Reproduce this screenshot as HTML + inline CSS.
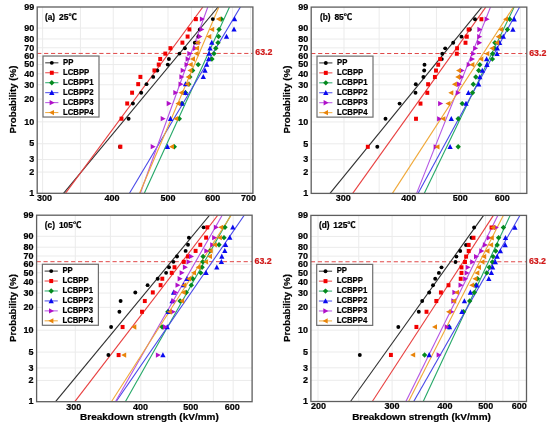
<!DOCTYPE html><html><head><meta charset="utf-8"><title>Weibull plots</title><style>html,body{margin:0;padding:0;background:#fff;width:550px;height:425px;overflow:hidden}svg{display:block}text{font-family:"Liberation Sans", Arial, "DejaVu Sans", sans-serif;font-weight:bold;stroke:#000;stroke-width:0.22px}</style></head><body>
<svg width="550" height="425" viewBox="0 0 550 425">
<rect width="550" height="425" fill="#fff"/>
<g id="panel-a">
<clipPath id="clipa"><rect x="37.2" y="7" width="215.7" height="186.3"/></clipPath>
<path d="M37.2 172.07H252.9M37.2 159.59H252.9M37.2 143.74H252.9M37.2 121.86H252.9M37.2 99.04H252.9M37.2 84.78H252.9M37.2 73.86H252.9M37.2 64.58H252.9M37.2 56.09H252.9M37.2 47.79H252.9M37.2 38.96H252.9M37.2 28.07H252.9M42.6 7V193.3M80.44 7V193.3M113.23 7V193.3M142.14 7V193.3M168.01 7V193.3M191.41 7V193.3M212.77 7V193.3M232.42 7V193.3M250.61 7V193.3" stroke="#ebebeb" stroke-width="1" fill="none"/>
<path d="M37.2 53.43H252.9" stroke="#e04848" stroke-width="1" stroke-dasharray="4.2 2.7" fill="none"/>
<text x="255.3" y="55.43" font-size="8.8" fill="#d01818" style="stroke:#d01818">63.2</text>
<g clip-path="url(#clipa)">
<path d="M63.5 193.3L218.1 7" stroke="#303030" stroke-width="1.1" fill="none"/>
<path d="M65.4 193.3L202.9 7" stroke="#e84040" stroke-width="1.1" fill="none"/>
<path d="M144.3 193.3L229.5 7" stroke="#25a868" stroke-width="1.1" fill="none"/>
<path d="M129.5 193.3L240.4 7" stroke="#4848e8" stroke-width="1.1" fill="none"/>
<path d="M140.3 193.3L207.8 7" stroke="#b454e4" stroke-width="1.1" fill="none"/>
<path d="M139.6 193.3L218.9 7" stroke="#f0a838" stroke-width="1.1" fill="none"/>
<circle cx="120" cy="146.71" r="1.95" fill="#000000"/>
<circle cx="128.6" cy="118.68" r="1.95" fill="#000000"/>
<circle cx="132.9" cy="103.49" r="1.95" fill="#000000"/>
<circle cx="141.2" cy="92.71" r="1.95" fill="#000000"/>
<circle cx="146.5" cy="84.15" r="1.95" fill="#000000"/>
<circle cx="153.2" cy="76.9" r="1.95" fill="#000000"/>
<circle cx="157.3" cy="70.47" r="1.95" fill="#000000"/>
<circle cx="167.8" cy="64.58" r="1.95" fill="#000000"/>
<circle cx="168.9" cy="59.02" r="1.95" fill="#000000"/>
<circle cx="179.5" cy="53.62" r="1.95" fill="#000000"/>
<circle cx="184.9" cy="48.23" r="1.95" fill="#000000"/>
<circle cx="194.8" cy="42.64" r="1.95" fill="#000000"/>
<circle cx="198.5" cy="36.57" r="1.95" fill="#000000"/>
<circle cx="199.8" cy="29.41" r="1.95" fill="#000000"/>
<circle cx="212.8" cy="19.12" r="1.95" fill="#000000"/>
<rect x="118.45" y="144.66" width="3.9" height="4.1" fill="#f20000"/>
<rect x="119.55" y="116.63" width="3.9" height="4.1" fill="#f20000"/>
<rect x="125.25" y="101.44" width="3.9" height="4.1" fill="#f20000"/>
<rect x="130.15" y="90.66" width="3.9" height="4.1" fill="#f20000"/>
<rect x="136.25" y="82.1" width="3.9" height="4.1" fill="#f20000"/>
<rect x="138.45" y="74.85" width="3.9" height="4.1" fill="#f20000"/>
<rect x="152.45" y="68.42" width="3.9" height="4.1" fill="#f20000"/>
<rect x="156.75" y="62.53" width="3.9" height="4.1" fill="#f20000"/>
<rect x="158.25" y="56.97" width="3.9" height="4.1" fill="#f20000"/>
<rect x="163.35" y="51.57" width="3.9" height="4.1" fill="#f20000"/>
<rect x="168.45" y="46.18" width="3.9" height="4.1" fill="#f20000"/>
<rect x="180.45" y="40.59" width="3.9" height="4.1" fill="#f20000"/>
<rect x="185.65" y="34.52" width="3.9" height="4.1" fill="#f20000"/>
<rect x="187.45" y="27.36" width="3.9" height="4.1" fill="#f20000"/>
<rect x="193.95" y="17.07" width="3.9" height="4.1" fill="#f20000"/>
<path d="M174.3 144.01L177 146.71L174.3 149.41L171.6 146.71Z" fill="#058a1e"/>
<path d="M179.3 115.98L182 118.68L179.3 121.38L176.6 118.68Z" fill="#058a1e"/>
<path d="M182 100.79L184.7 103.49L182 106.19L179.3 103.49Z" fill="#058a1e"/>
<path d="M185.5 90.01L188.2 92.71L185.5 95.41L182.8 92.71Z" fill="#058a1e"/>
<path d="M188.8 81.45L191.5 84.15L188.8 86.85L186.1 84.15Z" fill="#058a1e"/>
<path d="M189.8 74.2L192.5 76.9L189.8 79.6L187.1 76.9Z" fill="#058a1e"/>
<path d="M192.6 67.77L195.3 70.47L192.6 73.17L189.9 70.47Z" fill="#058a1e"/>
<path d="M198.2 61.88L200.9 64.58L198.2 67.28L195.5 64.58Z" fill="#058a1e"/>
<path d="M211.9 56.32L214.6 59.02L211.9 61.72L209.2 59.02Z" fill="#058a1e"/>
<path d="M214 50.92L216.7 53.62L214 56.32L211.3 53.62Z" fill="#058a1e"/>
<path d="M215.8 45.53L218.5 48.23L215.8 50.93L213.1 48.23Z" fill="#058a1e"/>
<path d="M218 39.94L220.7 42.64L218 45.34L215.3 42.64Z" fill="#058a1e"/>
<path d="M218.6 33.87L221.3 36.57L218.6 39.27L215.9 36.57Z" fill="#058a1e"/>
<path d="M219.1 26.71L221.8 29.41L219.1 32.11L216.4 29.41Z" fill="#058a1e"/>
<path d="M221.4 16.42L224.1 19.12L221.4 21.82L218.7 19.12Z" fill="#058a1e"/>
<path d="M167.5 143.86L170.15 148.91L164.85 148.91Z" fill="#0a0af0"/>
<path d="M170.5 115.83L173.15 120.88L167.85 120.88Z" fill="#0a0af0"/>
<path d="M182 100.64L184.65 105.69L179.35 105.69Z" fill="#0a0af0"/>
<path d="M185.4 89.86L188.05 94.91L182.75 94.91Z" fill="#0a0af0"/>
<path d="M185.5 81.3L188.15 86.35L182.85 86.35Z" fill="#0a0af0"/>
<path d="M203.3 74.05L205.95 79.1L200.65 79.1Z" fill="#0a0af0"/>
<path d="M205 67.62L207.65 72.67L202.35 72.67Z" fill="#0a0af0"/>
<path d="M206.7 61.73L209.35 66.78L204.05 66.78Z" fill="#0a0af0"/>
<path d="M208.6 56.17L211.25 61.22L205.95 61.22Z" fill="#0a0af0"/>
<path d="M209.1 50.77L211.75 55.82L206.45 55.82Z" fill="#0a0af0"/>
<path d="M210 45.38L212.65 50.43L207.35 50.43Z" fill="#0a0af0"/>
<path d="M211.8 39.79L214.45 44.84L209.15 44.84Z" fill="#0a0af0"/>
<path d="M226.5 33.72L229.15 38.77L223.85 38.77Z" fill="#0a0af0"/>
<path d="M234 26.56L236.65 31.61L231.35 31.61Z" fill="#0a0af0"/>
<path d="M234.6 16.27L237.25 21.32L231.95 21.32Z" fill="#0a0af0"/>
<path d="M155.7 146.71L150.7 144.06L150.7 149.36Z" fill="#b010c8"/>
<path d="M165.7 118.68L160.7 116.03L160.7 121.33Z" fill="#b010c8"/>
<path d="M171.7 103.49L166.7 100.84L166.7 106.14Z" fill="#b010c8"/>
<path d="M178.3 92.71L173.3 90.06L173.3 95.36Z" fill="#b010c8"/>
<path d="M183.5 84.15L178.5 81.5L178.5 86.8Z" fill="#b010c8"/>
<path d="M184.4 76.9L179.4 74.25L179.4 79.55Z" fill="#b010c8"/>
<path d="M185.7 70.47L180.7 67.82L180.7 73.12Z" fill="#b010c8"/>
<path d="M189.5 64.58L184.5 61.93L184.5 67.23Z" fill="#b010c8"/>
<path d="M190.6 59.02L185.6 56.37L185.6 61.67Z" fill="#b010c8"/>
<path d="M192.3 53.62L187.3 50.97L187.3 56.27Z" fill="#b010c8"/>
<path d="M198 48.23L193 45.58L193 50.88Z" fill="#b010c8"/>
<path d="M201.3 42.64L196.3 39.99L196.3 45.29Z" fill="#b010c8"/>
<path d="M202.5 36.57L197.5 33.92L197.5 39.22Z" fill="#b010c8"/>
<path d="M204.4 29.41L199.4 26.76L199.4 32.06Z" fill="#b010c8"/>
<path d="M204.9 19.12L199.9 16.47L199.9 21.77Z" fill="#b010c8"/>
<path d="M169 146.71L174 144.06L174 149.36Z" fill="#e8840a"/>
<path d="M173.2 118.68L178.2 116.03L178.2 121.33Z" fill="#e8840a"/>
<path d="M175.4 103.49L180.4 100.84L180.4 106.14Z" fill="#e8840a"/>
<path d="M178.5 92.71L183.5 90.06L183.5 95.36Z" fill="#e8840a"/>
<path d="M184.5 84.15L189.5 81.5L189.5 86.8Z" fill="#e8840a"/>
<path d="M185.5 76.9L190.5 74.25L190.5 79.55Z" fill="#e8840a"/>
<path d="M187.4 70.47L192.4 67.82L192.4 73.12Z" fill="#e8840a"/>
<path d="M187.7 64.58L192.7 61.93L192.7 67.23Z" fill="#e8840a"/>
<path d="M190 59.02L195 56.37L195 61.67Z" fill="#e8840a"/>
<path d="M193.6 53.62L198.6 50.97L198.6 56.27Z" fill="#e8840a"/>
<path d="M194.1 48.23L199.1 45.58L199.1 50.88Z" fill="#e8840a"/>
<path d="M194.6 42.64L199.6 39.99L199.6 45.29Z" fill="#e8840a"/>
<path d="M206.3 36.57L211.3 33.92L211.3 39.22Z" fill="#e8840a"/>
<path d="M209.2 29.41L214.2 26.76L214.2 32.06Z" fill="#e8840a"/>
<path d="M215.8 19.12L220.8 16.47L220.8 21.77Z" fill="#e8840a"/>
</g>
<rect x="37.2" y="7" width="215.7" height="186.3" fill="none" stroke="#5e5e5e" stroke-width="1.3"/>
<text x="34.2" y="196.05" font-size="9" text-anchor="end">1</text>
<text x="34.2" y="174.82" font-size="9" text-anchor="end">2</text>
<text x="34.2" y="162.34" font-size="9" text-anchor="end">3</text>
<text x="34.2" y="146.49" font-size="9" text-anchor="end">5</text>
<text x="34.2" y="124.61" font-size="9" text-anchor="end">10</text>
<text x="34.2" y="101.79" font-size="9" text-anchor="end">20</text>
<text x="34.2" y="87.53" font-size="9" text-anchor="end">30</text>
<text x="34.2" y="76.61" font-size="9" text-anchor="end">40</text>
<text x="34.2" y="67.33" font-size="9" text-anchor="end">50</text>
<text x="34.2" y="58.84" font-size="9" text-anchor="end">60</text>
<text x="34.2" y="50.54" font-size="9" text-anchor="end">70</text>
<text x="34.2" y="41.71" font-size="9" text-anchor="end">80</text>
<text x="34.2" y="30.82" font-size="9" text-anchor="end">90</text>
<text x="34.2" y="9.75" font-size="9" text-anchor="end">99</text>
<text x="44.6" y="201.1" font-size="9" text-anchor="middle">300</text>
<text x="111.9" y="201.1" font-size="9" text-anchor="middle">400</text>
<text x="168.01" y="201.1" font-size="9" text-anchor="middle">500</text>
<text x="212.77" y="201.1" font-size="9" text-anchor="middle">600</text>
<text x="248.6" y="201.1" font-size="9" text-anchor="middle">700</text>
<text x="44.9" y="19.5" font-size="8.3" style="font-family:&quot;Liberation Sans&quot;,&quot;Noto Sans CJK SC&quot;,sans-serif">(a)<tspan x="59" font-size="8.45">25℃</tspan></text>
<rect x="43" y="56.03" width="56" height="61" fill="#fff" stroke="#6e6e6e" stroke-width="1.2"/>
<path d="M45.2 62.83H58.4" stroke="#303030" stroke-width="1" fill="none"/>
<circle cx="51.8" cy="62.83" r="1.95" fill="#000000"/>
<text transform="translate(63,64.88) scale(1,1.09)" font-size="7.75">PP</text>
<path d="M45.2 72.78H58.4" stroke="#e84040" stroke-width="1" fill="none"/>
<rect x="49.85" y="70.73" width="3.9" height="4.1" fill="#f20000"/>
<text transform="translate(63,74.83) scale(1,1.09)" font-size="7.75">LCBPP</text>
<path d="M45.2 82.73H58.4" stroke="#25a868" stroke-width="1" fill="none"/>
<path d="M51.8 80.03L54.5 82.73L51.8 85.43L49.1 82.73Z" fill="#058a1e"/>
<text transform="translate(63,84.78) scale(1,1.09)" font-size="7.75">LCBPP1</text>
<path d="M45.2 92.68H58.4" stroke="#4848e8" stroke-width="1" fill="none"/>
<path d="M51.8 89.83L54.45 94.88L49.15 94.88Z" fill="#0a0af0"/>
<text transform="translate(63,94.73) scale(1,1.09)" font-size="7.75">LCBPP2</text>
<path d="M45.2 102.63H58.4" stroke="#b454e4" stroke-width="1" fill="none"/>
<path d="M54.6 102.63L49.6 99.98L49.6 105.28Z" fill="#b010c8"/>
<text transform="translate(63,104.68) scale(1,1.09)" font-size="7.75">LCBPP3</text>
<path d="M45.2 112.58H58.4" stroke="#f0a838" stroke-width="1" fill="none"/>
<path d="M49 112.58L54 109.93L54 115.23Z" fill="#e8840a"/>
<text transform="translate(63,114.63) scale(1,1.09)" font-size="7.75">LCBPP4</text>
</g>
<g id="panel-b">
<clipPath id="clipb"><rect x="311.2" y="7.1" width="215.6" height="186.3"/></clipPath>
<path d="M311.2 172.17H526.8M311.2 159.69H526.8M311.2 143.84H526.8M311.2 121.96H526.8M311.2 99.14H526.8M311.2 84.88H526.8M311.2 73.96H526.8M311.2 64.68H526.8M311.2 56.19H526.8M311.2 47.89H526.8M311.2 39.06H526.8M311.2 28.17H526.8M344 7.1V193.4M379.15 7.1V193.4M409.59 7.1V193.4M436.45 7.1V193.4M460.47 7.1V193.4M482.2 7.1V193.4M502.04 7.1V193.4M520.29 7.1V193.4" stroke="#ebebeb" stroke-width="1" fill="none"/>
<path d="M311.2 53.53H526.8" stroke="#e04848" stroke-width="1" stroke-dasharray="4.2 2.7" fill="none"/>
<text x="529.2" y="55.53" font-size="8.8" fill="#d01818" style="stroke:#d01818">63.2</text>
<g clip-path="url(#clipb)">
<path d="M330 193.4L481.8 7.1" stroke="#303030" stroke-width="1.1" fill="none"/>
<path d="M352.7 193.4L485.8 7.1" stroke="#e84040" stroke-width="1.1" fill="none"/>
<path d="M424.2 193.4L514.2 7.1" stroke="#25a868" stroke-width="1.1" fill="none"/>
<path d="M418 193.4L519.6 7.1" stroke="#4848e8" stroke-width="1.1" fill="none"/>
<path d="M416.6 193.4L490.5 7.1" stroke="#b454e4" stroke-width="1.1" fill="none"/>
<path d="M392.4 193.4L513.4 7.1" stroke="#f0a838" stroke-width="1.1" fill="none"/>
<circle cx="377.3" cy="146.81" r="1.95" fill="#000000"/>
<circle cx="385.5" cy="118.78" r="1.95" fill="#000000"/>
<circle cx="399.6" cy="103.59" r="1.95" fill="#000000"/>
<circle cx="415.5" cy="92.81" r="1.95" fill="#000000"/>
<circle cx="415.8" cy="84.25" r="1.95" fill="#000000"/>
<circle cx="423.4" cy="77" r="1.95" fill="#000000"/>
<circle cx="424.2" cy="70.57" r="1.95" fill="#000000"/>
<circle cx="424.5" cy="64.68" r="1.95" fill="#000000"/>
<circle cx="441.8" cy="59.12" r="1.95" fill="#000000"/>
<circle cx="442.3" cy="53.72" r="1.95" fill="#000000"/>
<circle cx="445.2" cy="48.33" r="1.95" fill="#000000"/>
<circle cx="453.2" cy="42.74" r="1.95" fill="#000000"/>
<circle cx="461.5" cy="36.67" r="1.95" fill="#000000"/>
<circle cx="469.8" cy="29.51" r="1.95" fill="#000000"/>
<circle cx="475" cy="19.22" r="1.95" fill="#000000"/>
<rect x="365.85" y="144.76" width="3.9" height="4.1" fill="#f20000"/>
<rect x="414.05" y="116.73" width="3.9" height="4.1" fill="#f20000"/>
<rect x="418.55" y="101.54" width="3.9" height="4.1" fill="#f20000"/>
<rect x="425.35" y="90.76" width="3.9" height="4.1" fill="#f20000"/>
<rect x="426.15" y="82.2" width="3.9" height="4.1" fill="#f20000"/>
<rect x="432.95" y="74.95" width="3.9" height="4.1" fill="#f20000"/>
<rect x="434.05" y="68.52" width="3.9" height="4.1" fill="#f20000"/>
<rect x="436.25" y="62.63" width="3.9" height="4.1" fill="#f20000"/>
<rect x="438.15" y="57.07" width="3.9" height="4.1" fill="#f20000"/>
<rect x="454.85" y="51.67" width="3.9" height="4.1" fill="#f20000"/>
<rect x="455.15" y="46.28" width="3.9" height="4.1" fill="#f20000"/>
<rect x="463.55" y="40.69" width="3.9" height="4.1" fill="#f20000"/>
<rect x="464.85" y="34.62" width="3.9" height="4.1" fill="#f20000"/>
<rect x="466.65" y="27.46" width="3.9" height="4.1" fill="#f20000"/>
<rect x="479.45" y="17.17" width="3.9" height="4.1" fill="#f20000"/>
<path d="M458.2 144.11L460.9 146.81L458.2 149.51L455.5 146.81Z" fill="#058a1e"/>
<path d="M458.2 116.08L460.9 118.78L458.2 121.48L455.5 118.78Z" fill="#058a1e"/>
<path d="M462.2 100.89L464.9 103.59L462.2 106.29L459.5 103.59Z" fill="#058a1e"/>
<path d="M472.5 90.11L475.2 92.81L472.5 95.51L469.8 92.81Z" fill="#058a1e"/>
<path d="M473.3 81.55L476 84.25L473.3 86.95L470.6 84.25Z" fill="#058a1e"/>
<path d="M475.8 74.3L478.5 77L475.8 79.7L473.1 77Z" fill="#058a1e"/>
<path d="M478.7 67.87L481.4 70.57L478.7 73.27L476 70.57Z" fill="#058a1e"/>
<path d="M479.8 61.98L482.5 64.68L479.8 67.38L477.1 64.68Z" fill="#058a1e"/>
<path d="M492.4 56.42L495.1 59.12L492.4 61.82L489.7 59.12Z" fill="#058a1e"/>
<path d="M492.6 51.02L495.3 53.72L492.6 56.42L489.9 53.72Z" fill="#058a1e"/>
<path d="M494.3 45.63L497 48.33L494.3 51.03L491.6 48.33Z" fill="#058a1e"/>
<path d="M494.9 40.04L497.6 42.74L494.9 45.44L492.2 42.74Z" fill="#058a1e"/>
<path d="M500 33.97L502.7 36.67L500 39.37L497.3 36.67Z" fill="#058a1e"/>
<path d="M507.4 26.81L510.1 29.51L507.4 32.21L504.7 29.51Z" fill="#058a1e"/>
<path d="M509.8 16.52L512.5 19.22L509.8 21.92L507.1 19.22Z" fill="#058a1e"/>
<path d="M450.1 143.96L452.75 149.01L447.45 149.01Z" fill="#0a0af0"/>
<path d="M451.3 115.93L453.95 120.98L448.65 120.98Z" fill="#0a0af0"/>
<path d="M466 100.74L468.65 105.79L463.35 105.79Z" fill="#0a0af0"/>
<path d="M468.4 89.96L471.05 95.01L465.75 95.01Z" fill="#0a0af0"/>
<path d="M478.7 81.4L481.35 86.45L476.05 86.45Z" fill="#0a0af0"/>
<path d="M479.8 74.15L482.45 79.2L477.15 79.2Z" fill="#0a0af0"/>
<path d="M482.3 67.72L484.95 72.77L479.65 72.77Z" fill="#0a0af0"/>
<path d="M486.9 61.83L489.55 66.88L484.25 66.88Z" fill="#0a0af0"/>
<path d="M486.6 56.27L489.25 61.32L483.95 61.32Z" fill="#0a0af0"/>
<path d="M497 50.87L499.65 55.92L494.35 55.92Z" fill="#0a0af0"/>
<path d="M497.3 45.48L499.95 50.53L494.65 50.53Z" fill="#0a0af0"/>
<path d="M499.6 39.89L502.25 44.94L496.95 44.94Z" fill="#0a0af0"/>
<path d="M503.3 33.82L505.95 38.87L500.65 38.87Z" fill="#0a0af0"/>
<path d="M512.9 26.66L515.55 31.71L510.25 31.71Z" fill="#0a0af0"/>
<path d="M514.2 16.37L516.85 21.42L511.55 21.42Z" fill="#0a0af0"/>
<path d="M438.6 146.81L433.6 144.16L433.6 149.46Z" fill="#b010c8"/>
<path d="M442.1 118.78L437.1 116.13L437.1 121.43Z" fill="#b010c8"/>
<path d="M443.1 103.59L438.1 100.94L438.1 106.24Z" fill="#b010c8"/>
<path d="M460.8 92.81L455.8 90.16L455.8 95.46Z" fill="#b010c8"/>
<path d="M461.9 84.25L456.9 81.6L456.9 86.9Z" fill="#b010c8"/>
<path d="M464.1 77L459.1 74.35L459.1 79.65Z" fill="#b010c8"/>
<path d="M464.6 70.57L459.6 67.92L459.6 73.22Z" fill="#b010c8"/>
<path d="M471.7 64.68L466.7 62.03L466.7 67.33Z" fill="#b010c8"/>
<path d="M475 59.12L470 56.47L470 61.77Z" fill="#b010c8"/>
<path d="M476.1 53.72L471.1 51.07L471.1 56.37Z" fill="#b010c8"/>
<path d="M478.2 48.33L473.2 45.68L473.2 50.98Z" fill="#b010c8"/>
<path d="M482.1 42.74L477.1 40.09L477.1 45.39Z" fill="#b010c8"/>
<path d="M482.2 36.67L477.2 34.02L477.2 39.32Z" fill="#b010c8"/>
<path d="M482.4 29.51L477.4 26.86L477.4 32.16Z" fill="#b010c8"/>
<path d="M489.6 19.22L484.6 16.57L484.6 21.87Z" fill="#b010c8"/>
<path d="M434.5 146.81L439.5 144.16L439.5 149.46Z" fill="#e8840a"/>
<path d="M440.4 118.78L445.4 116.13L445.4 121.43Z" fill="#e8840a"/>
<path d="M445.4 103.59L450.4 100.94L450.4 106.24Z" fill="#e8840a"/>
<path d="M448.3 92.81L453.3 90.16L453.3 95.46Z" fill="#e8840a"/>
<path d="M451.9 84.25L456.9 81.6L456.9 86.9Z" fill="#e8840a"/>
<path d="M455.2 77L460.2 74.35L460.2 79.65Z" fill="#e8840a"/>
<path d="M456 70.57L461 67.92L461 73.22Z" fill="#e8840a"/>
<path d="M469.4 64.68L474.4 62.03L474.4 67.33Z" fill="#e8840a"/>
<path d="M478.3 59.12L483.3 56.47L483.3 61.77Z" fill="#e8840a"/>
<path d="M484.3 53.72L489.3 51.07L489.3 56.37Z" fill="#e8840a"/>
<path d="M489.3 48.33L494.3 45.68L494.3 50.98Z" fill="#e8840a"/>
<path d="M494.2 42.74L499.2 40.09L499.2 45.39Z" fill="#e8840a"/>
<path d="M495.5 36.67L500.5 34.02L500.5 39.32Z" fill="#e8840a"/>
<path d="M498.2 29.51L503.2 26.86L503.2 32.16Z" fill="#e8840a"/>
<path d="M503 19.22L508 16.57L508 21.87Z" fill="#e8840a"/>
</g>
<rect x="311.2" y="7.1" width="215.6" height="186.3" fill="none" stroke="#5e5e5e" stroke-width="1.3"/>
<text x="308.2" y="196.15" font-size="9" text-anchor="end">1</text>
<text x="308.2" y="174.92" font-size="9" text-anchor="end">2</text>
<text x="308.2" y="162.44" font-size="9" text-anchor="end">3</text>
<text x="308.2" y="146.59" font-size="9" text-anchor="end">5</text>
<text x="308.2" y="124.71" font-size="9" text-anchor="end">10</text>
<text x="308.2" y="101.89" font-size="9" text-anchor="end">20</text>
<text x="308.2" y="87.63" font-size="9" text-anchor="end">30</text>
<text x="308.2" y="76.71" font-size="9" text-anchor="end">40</text>
<text x="308.2" y="67.43" font-size="9" text-anchor="end">50</text>
<text x="308.2" y="58.94" font-size="9" text-anchor="end">60</text>
<text x="308.2" y="50.64" font-size="9" text-anchor="end">70</text>
<text x="308.2" y="41.81" font-size="9" text-anchor="end">80</text>
<text x="308.2" y="30.92" font-size="9" text-anchor="end">90</text>
<text x="308.2" y="9.85" font-size="9" text-anchor="end">99</text>
<text x="343.3" y="201.2" font-size="9" text-anchor="middle">300</text>
<text x="408.8" y="201.2" font-size="9" text-anchor="middle">400</text>
<text x="460.2" y="201.2" font-size="9" text-anchor="middle">500</text>
<text x="502.3" y="201.2" font-size="9" text-anchor="middle">600</text>
<text x="320" y="19.6" font-size="8.3" style="font-family:&quot;Liberation Sans&quot;,&quot;Noto Sans CJK SC&quot;,sans-serif">(b)<tspan x="334.4" font-size="8.45">85℃</tspan></text>
<rect x="317" y="56.13" width="56" height="61" fill="#fff" stroke="#6e6e6e" stroke-width="1.2"/>
<path d="M319.2 62.93H332.4" stroke="#303030" stroke-width="1" fill="none"/>
<circle cx="325.8" cy="62.93" r="1.95" fill="#000000"/>
<text transform="translate(337,64.98) scale(1,1.09)" font-size="7.75">PP</text>
<path d="M319.2 72.88H332.4" stroke="#e84040" stroke-width="1" fill="none"/>
<rect x="323.85" y="70.83" width="3.9" height="4.1" fill="#f20000"/>
<text transform="translate(337,74.93) scale(1,1.09)" font-size="7.75">LCBPP</text>
<path d="M319.2 82.83H332.4" stroke="#25a868" stroke-width="1" fill="none"/>
<path d="M325.8 80.13L328.5 82.83L325.8 85.53L323.1 82.83Z" fill="#058a1e"/>
<text transform="translate(337,84.88) scale(1,1.09)" font-size="7.75">LCBPP1</text>
<path d="M319.2 92.78H332.4" stroke="#4848e8" stroke-width="1" fill="none"/>
<path d="M325.8 89.93L328.45 94.98L323.15 94.98Z" fill="#0a0af0"/>
<text transform="translate(337,94.83) scale(1,1.09)" font-size="7.75">LCBPP2</text>
<path d="M319.2 102.73H332.4" stroke="#b454e4" stroke-width="1" fill="none"/>
<path d="M328.6 102.73L323.6 100.08L323.6 105.38Z" fill="#b010c8"/>
<text transform="translate(337,104.78) scale(1,1.09)" font-size="7.75">LCBPP3</text>
<path d="M319.2 112.68H332.4" stroke="#f0a838" stroke-width="1" fill="none"/>
<path d="M323 112.68L328 110.03L328 115.33Z" fill="#e8840a"/>
<text transform="translate(337,114.73) scale(1,1.09)" font-size="7.75">LCBPP4</text>
</g>
<g id="panel-c">
<clipPath id="clipc"><rect x="36.6" y="215.2" width="215.5" height="186.5"/></clipPath>
<path d="M36.6 380.45H252.1M36.6 367.95H252.1M36.6 352.09H252.1M36.6 330.18H252.1M36.6 307.34H252.1M36.6 293.06H252.1M36.6 282.13H252.1M36.6 272.84H252.1M36.6 264.34H252.1M36.6 256.03H252.1M36.6 247.2H252.1M36.6 236.3H252.1M75.3 215.2V401.7M110.4 215.2V401.7M140.81 215.2V401.7M167.62 215.2V401.7M191.61 215.2V401.7M213.32 215.2V401.7M233.13 215.2V401.7" stroke="#ebebeb" stroke-width="1" fill="none"/>
<path d="M36.6 261.68H252.1" stroke="#e04848" stroke-width="1" stroke-dasharray="4.2 2.7" fill="none"/>
<text x="254.5" y="263.68" font-size="8.8" fill="#d01818" style="stroke:#d01818">63.2</text>
<g clip-path="url(#clipc)">
<path d="M55.5 401.7L209.6 215.2" stroke="#303030" stroke-width="1.1" fill="none"/>
<path d="M74.8 401.7L217.8 215.2" stroke="#e84040" stroke-width="1.1" fill="none"/>
<path d="M125.3 401.7L230.8 215.2" stroke="#25a868" stroke-width="1.1" fill="none"/>
<path d="M116 401.7L244.3 215.2" stroke="#4848e8" stroke-width="1.1" fill="none"/>
<path d="M115.4 401.7L222.2 215.2" stroke="#b454e4" stroke-width="1.1" fill="none"/>
<path d="M111.4 401.7L231.2 215.2" stroke="#f0a838" stroke-width="1.1" fill="none"/>
<circle cx="108.4" cy="355.06" r="1.95" fill="#000000"/>
<circle cx="111.1" cy="327" r="1.95" fill="#000000"/>
<circle cx="119.4" cy="311.79" r="1.95" fill="#000000"/>
<circle cx="120.6" cy="301" r="1.95" fill="#000000"/>
<circle cx="135.3" cy="292.43" r="1.95" fill="#000000"/>
<circle cx="147.6" cy="285.17" r="1.95" fill="#000000"/>
<circle cx="157.7" cy="278.74" r="1.95" fill="#000000"/>
<circle cx="166.1" cy="272.84" r="1.95" fill="#000000"/>
<circle cx="169" cy="267.27" r="1.95" fill="#000000"/>
<circle cx="173.4" cy="261.87" r="1.95" fill="#000000"/>
<circle cx="177" cy="256.47" r="1.95" fill="#000000"/>
<circle cx="185.6" cy="250.88" r="1.95" fill="#000000"/>
<circle cx="188" cy="244.81" r="1.95" fill="#000000"/>
<circle cx="188.9" cy="237.63" r="1.95" fill="#000000"/>
<circle cx="203.6" cy="227.33" r="1.95" fill="#000000"/>
<rect x="116.65" y="353.01" width="3.9" height="4.1" fill="#f20000"/>
<rect x="120.65" y="324.95" width="3.9" height="4.1" fill="#f20000"/>
<rect x="140.05" y="309.74" width="3.9" height="4.1" fill="#f20000"/>
<rect x="142.85" y="298.95" width="3.9" height="4.1" fill="#f20000"/>
<rect x="150.85" y="290.38" width="3.9" height="4.1" fill="#f20000"/>
<rect x="158.65" y="283.12" width="3.9" height="4.1" fill="#f20000"/>
<rect x="160.35" y="276.69" width="3.9" height="4.1" fill="#f20000"/>
<rect x="169.75" y="270.79" width="3.9" height="4.1" fill="#f20000"/>
<rect x="172.55" y="265.22" width="3.9" height="4.1" fill="#f20000"/>
<rect x="181.85" y="259.82" width="3.9" height="4.1" fill="#f20000"/>
<rect x="185.95" y="254.42" width="3.9" height="4.1" fill="#f20000"/>
<rect x="193.65" y="248.83" width="3.9" height="4.1" fill="#f20000"/>
<rect x="198.35" y="242.76" width="3.9" height="4.1" fill="#f20000"/>
<rect x="204.15" y="235.58" width="3.9" height="4.1" fill="#f20000"/>
<rect x="205.35" y="225.28" width="3.9" height="4.1" fill="#f20000"/>
<path d="M162.2 324.3L164.9 327L162.2 329.7L159.5 327Z" fill="#058a1e"/>
<path d="M167.9 309.09L170.6 311.79L167.9 314.49L165.2 311.79Z" fill="#058a1e"/>
<path d="M180.1 298.3L182.8 301L180.1 303.7L177.4 301Z" fill="#058a1e"/>
<path d="M186.2 289.73L188.9 292.43L186.2 295.13L183.5 292.43Z" fill="#058a1e"/>
<path d="M191.3 282.47L194 285.17L191.3 287.87L188.6 285.17Z" fill="#058a1e"/>
<path d="M192.8 276.04L195.5 278.74L192.8 281.44L190.1 278.74Z" fill="#058a1e"/>
<path d="M200.7 270.14L203.4 272.84L200.7 275.54L198 272.84Z" fill="#058a1e"/>
<path d="M202.1 264.57L204.8 267.27L202.1 269.97L199.4 267.27Z" fill="#058a1e"/>
<path d="M202.7 259.17L205.4 261.87L202.7 264.57L200 261.87Z" fill="#058a1e"/>
<path d="M203.1 253.77L205.8 256.47L203.1 259.17L200.4 256.47Z" fill="#058a1e"/>
<path d="M210 248.18L212.7 250.88L210 253.58L207.3 250.88Z" fill="#058a1e"/>
<path d="M219 242.11L221.7 244.81L219 247.51L216.3 244.81Z" fill="#058a1e"/>
<path d="M224 234.93L226.7 237.63L224 240.33L221.3 237.63Z" fill="#058a1e"/>
<path d="M225 224.63L227.7 227.33L225 230.03L222.3 227.33Z" fill="#058a1e"/>
<path d="M162.9 352.21L165.55 357.26L160.25 357.26Z" fill="#0a0af0"/>
<path d="M167.2 324.15L169.85 329.2L164.55 329.2Z" fill="#0a0af0"/>
<path d="M168.5 308.94L171.15 313.99L165.85 313.99Z" fill="#0a0af0"/>
<path d="M172.1 298.15L174.75 303.2L169.45 303.2Z" fill="#0a0af0"/>
<path d="M173.6 289.58L176.25 294.63L170.95 294.63Z" fill="#0a0af0"/>
<path d="M183.5 282.32L186.15 287.37L180.85 287.37Z" fill="#0a0af0"/>
<path d="M187 275.89L189.65 280.94L184.35 280.94Z" fill="#0a0af0"/>
<path d="M206.1 269.99L208.75 275.04L203.45 275.04Z" fill="#0a0af0"/>
<path d="M216.8 264.42L219.45 269.47L214.15 269.47Z" fill="#0a0af0"/>
<path d="M221.4 259.02L224.05 264.07L218.75 264.07Z" fill="#0a0af0"/>
<path d="M221.8 253.62L224.45 258.67L219.15 258.67Z" fill="#0a0af0"/>
<path d="M224.8 248.03L227.45 253.08L222.15 253.08Z" fill="#0a0af0"/>
<path d="M225.6 241.96L228.25 247.01L222.95 247.01Z" fill="#0a0af0"/>
<path d="M229.8 234.78L232.45 239.83L227.15 239.83Z" fill="#0a0af0"/>
<path d="M232.8 224.48L235.45 229.53L230.15 229.53Z" fill="#0a0af0"/>
<path d="M160.9 355.06L155.9 352.41L155.9 357.71Z" fill="#b010c8"/>
<path d="M168 327L163 324.35L163 329.65Z" fill="#b010c8"/>
<path d="M175.8 311.79L170.8 309.14L170.8 314.44Z" fill="#b010c8"/>
<path d="M176.3 301L171.3 298.35L171.3 303.65Z" fill="#b010c8"/>
<path d="M178.3 292.43L173.3 289.78L173.3 295.08Z" fill="#b010c8"/>
<path d="M180.5 285.17L175.5 282.52L175.5 287.82Z" fill="#b010c8"/>
<path d="M182.6 278.74L177.6 276.09L177.6 281.39Z" fill="#b010c8"/>
<path d="M184.6 272.84L179.6 270.19L179.6 275.49Z" fill="#b010c8"/>
<path d="M187.9 267.27L182.9 264.62L182.9 269.92Z" fill="#b010c8"/>
<path d="M191.5 261.87L186.5 259.22L186.5 264.52Z" fill="#b010c8"/>
<path d="M194 256.47L189 253.82L189 259.12Z" fill="#b010c8"/>
<path d="M209.3 250.88L204.3 248.23L204.3 253.53Z" fill="#b010c8"/>
<path d="M215.2 244.81L210.2 242.16L210.2 247.46Z" fill="#b010c8"/>
<path d="M217.1 237.63L212.1 234.98L212.1 240.28Z" fill="#b010c8"/>
<path d="M218.9 227.33L213.9 224.68L213.9 229.98Z" fill="#b010c8"/>
<path d="M121.2 355.06L126.2 352.41L126.2 357.71Z" fill="#e8840a"/>
<path d="M131.3 327L136.3 324.35L136.3 329.65Z" fill="#e8840a"/>
<path d="M166.8 311.79L171.8 309.14L171.8 314.44Z" fill="#e8840a"/>
<path d="M179.2 301L184.2 298.35L184.2 303.65Z" fill="#e8840a"/>
<path d="M180.7 292.43L185.7 289.78L185.7 295.08Z" fill="#e8840a"/>
<path d="M181.3 285.17L186.3 282.52L186.3 287.82Z" fill="#e8840a"/>
<path d="M186.1 278.74L191.1 276.09L191.1 281.39Z" fill="#e8840a"/>
<path d="M191 272.84L196 270.19L196 275.49Z" fill="#e8840a"/>
<path d="M195.6 267.27L200.6 264.62L200.6 269.92Z" fill="#e8840a"/>
<path d="M203.1 261.87L208.1 259.22L208.1 264.52Z" fill="#e8840a"/>
<path d="M207 256.47L212 253.82L212 259.12Z" fill="#e8840a"/>
<path d="M207.7 250.88L212.7 248.23L212.7 253.53Z" fill="#e8840a"/>
<path d="M211.9 244.81L216.9 242.16L216.9 247.46Z" fill="#e8840a"/>
<path d="M216.9 237.63L221.9 234.98L221.9 240.28Z" fill="#e8840a"/>
<path d="M218.2 227.33L223.2 224.68L223.2 229.98Z" fill="#e8840a"/>
</g>
<rect x="36.6" y="215.2" width="215.5" height="186.5" fill="none" stroke="#5e5e5e" stroke-width="1.3"/>
<text x="33.6" y="404.45" font-size="9" text-anchor="end">1</text>
<text x="33.6" y="383.2" font-size="9" text-anchor="end">2</text>
<text x="33.6" y="370.7" font-size="9" text-anchor="end">3</text>
<text x="33.6" y="354.84" font-size="9" text-anchor="end">5</text>
<text x="33.6" y="332.93" font-size="9" text-anchor="end">10</text>
<text x="33.6" y="310.09" font-size="9" text-anchor="end">20</text>
<text x="33.6" y="295.81" font-size="9" text-anchor="end">30</text>
<text x="33.6" y="284.88" font-size="9" text-anchor="end">40</text>
<text x="33.6" y="275.59" font-size="9" text-anchor="end">50</text>
<text x="33.6" y="267.09" font-size="9" text-anchor="end">60</text>
<text x="33.6" y="258.78" font-size="9" text-anchor="end">70</text>
<text x="33.6" y="249.95" font-size="9" text-anchor="end">80</text>
<text x="33.6" y="239.05" font-size="9" text-anchor="end">90</text>
<text x="33.6" y="217.95" font-size="9" text-anchor="end">99</text>
<text x="73.7" y="409.5" font-size="9" text-anchor="middle">300</text>
<text x="140.5" y="409.5" font-size="9" text-anchor="middle">400</text>
<text x="190.8" y="409.5" font-size="9" text-anchor="middle">500</text>
<text x="232.2" y="409.5" font-size="9" text-anchor="middle">600</text>
<text x="44.8" y="227.7" font-size="8.3" style="font-family:&quot;Liberation Sans&quot;,&quot;Noto Sans CJK SC&quot;,sans-serif">(c)<tspan x="58.9" font-size="8.45">105℃</tspan></text>
<rect x="42.4" y="264.28" width="56" height="61" fill="#fff" stroke="#6e6e6e" stroke-width="1.2"/>
<path d="M44.6 271.08H57.8" stroke="#303030" stroke-width="1" fill="none"/>
<circle cx="51.2" cy="271.08" r="1.95" fill="#000000"/>
<text transform="translate(62.4,273.13) scale(1,1.09)" font-size="7.75">PP</text>
<path d="M44.6 281.03H57.8" stroke="#e84040" stroke-width="1" fill="none"/>
<rect x="49.25" y="278.98" width="3.9" height="4.1" fill="#f20000"/>
<text transform="translate(62.4,283.08) scale(1,1.09)" font-size="7.75">LCBPP</text>
<path d="M44.6 290.98H57.8" stroke="#25a868" stroke-width="1" fill="none"/>
<path d="M51.2 288.28L53.9 290.98L51.2 293.68L48.5 290.98Z" fill="#058a1e"/>
<text transform="translate(62.4,293.03) scale(1,1.09)" font-size="7.75">LCBPP1</text>
<path d="M44.6 300.93H57.8" stroke="#4848e8" stroke-width="1" fill="none"/>
<path d="M51.2 298.08L53.85 303.13L48.55 303.13Z" fill="#0a0af0"/>
<text transform="translate(62.4,302.98) scale(1,1.09)" font-size="7.75">LCBPP2</text>
<path d="M44.6 310.88H57.8" stroke="#b454e4" stroke-width="1" fill="none"/>
<path d="M54 310.88L49 308.23L49 313.53Z" fill="#b010c8"/>
<text transform="translate(62.4,312.93) scale(1,1.09)" font-size="7.75">LCBPP3</text>
<path d="M44.6 320.83H57.8" stroke="#f0a838" stroke-width="1" fill="none"/>
<path d="M48.4 320.83L53.4 318.18L53.4 323.48Z" fill="#e8840a"/>
<text transform="translate(62.4,322.88) scale(1,1.09)" font-size="7.75">LCBPP4</text>
</g>
<g id="panel-d">
<clipPath id="clipd"><rect x="310.9" y="215.4" width="215.6" height="186.1"/></clipPath>
<path d="M310.9 380.29H526.5M310.9 367.82H526.5M310.9 351.99H526.5M310.9 330.13H526.5M310.9 307.34H526.5M310.9 293.1H526.5M310.9 282.19H526.5M310.9 272.92H526.5M310.9 264.44H526.5M310.9 256.15H526.5M310.9 247.33H526.5M310.9 236.45H526.5M318 215.4V401.5M358.79 215.4V401.5M392.12 215.4V401.5M420.3 215.4V401.5M444.71 215.4V401.5M466.24 215.4V401.5M485.5 215.4V401.5M502.92 215.4V401.5M518.83 215.4V401.5" stroke="#ebebeb" stroke-width="1" fill="none"/>
<path d="M310.9 261.78H526.5" stroke="#e04848" stroke-width="1" stroke-dasharray="4.2 2.7" fill="none"/>
<text x="528.9" y="263.78" font-size="8.8" fill="#d01818" style="stroke:#d01818">63.2</text>
<g clip-path="url(#clipd)">
<path d="M350.5 401.5L483.6 215.4" stroke="#303030" stroke-width="1.1" fill="none"/>
<path d="M372.3 401.5L493.4 215.4" stroke="#e84040" stroke-width="1.1" fill="none"/>
<path d="M423.2 401.5L510.1 215.4" stroke="#25a868" stroke-width="1.1" fill="none"/>
<path d="M413.7 401.5L519.9 215.4" stroke="#4848e8" stroke-width="1.1" fill="none"/>
<path d="M405.9 401.5L497.8 215.4" stroke="#b454e4" stroke-width="1.1" fill="none"/>
<path d="M408.6 401.5L503.3 215.4" stroke="#f0a838" stroke-width="1.1" fill="none"/>
<circle cx="359.8" cy="354.96" r="1.95" fill="#000000"/>
<circle cx="398.3" cy="326.96" r="1.95" fill="#000000"/>
<circle cx="418.8" cy="311.78" r="1.95" fill="#000000"/>
<circle cx="422.2" cy="301.02" r="1.95" fill="#000000"/>
<circle cx="429.2" cy="292.47" r="1.95" fill="#000000"/>
<circle cx="433" cy="285.22" r="1.95" fill="#000000"/>
<circle cx="435.2" cy="278.8" r="1.95" fill="#000000"/>
<circle cx="438.9" cy="272.92" r="1.95" fill="#000000"/>
<circle cx="441.5" cy="267.36" r="1.95" fill="#000000"/>
<circle cx="455.5" cy="261.97" r="1.95" fill="#000000"/>
<circle cx="456.4" cy="256.58" r="1.95" fill="#000000"/>
<circle cx="460.2" cy="251" r="1.95" fill="#000000"/>
<circle cx="466" cy="244.94" r="1.95" fill="#000000"/>
<circle cx="471.5" cy="237.78" r="1.95" fill="#000000"/>
<circle cx="474.1" cy="227.51" r="1.95" fill="#000000"/>
<rect x="388.95" y="352.91" width="3.9" height="4.1" fill="#f20000"/>
<rect x="414.45" y="324.91" width="3.9" height="4.1" fill="#f20000"/>
<rect x="424.55" y="309.73" width="3.9" height="4.1" fill="#f20000"/>
<rect x="434.35" y="298.97" width="3.9" height="4.1" fill="#f20000"/>
<rect x="438.95" y="290.42" width="3.9" height="4.1" fill="#f20000"/>
<rect x="446.55" y="283.17" width="3.9" height="4.1" fill="#f20000"/>
<rect x="458.75" y="276.75" width="3.9" height="4.1" fill="#f20000"/>
<rect x="459.55" y="270.87" width="3.9" height="4.1" fill="#f20000"/>
<rect x="459.55" y="265.31" width="3.9" height="4.1" fill="#f20000"/>
<rect x="463.05" y="259.92" width="3.9" height="4.1" fill="#f20000"/>
<rect x="464.15" y="254.53" width="3.9" height="4.1" fill="#f20000"/>
<rect x="466.75" y="248.95" width="3.9" height="4.1" fill="#f20000"/>
<rect x="466.75" y="242.89" width="3.9" height="4.1" fill="#f20000"/>
<rect x="471.55" y="235.73" width="3.9" height="4.1" fill="#f20000"/>
<rect x="489.55" y="225.46" width="3.9" height="4.1" fill="#f20000"/>
<path d="M424.6 352.26L427.3 354.96L424.6 357.66L421.9 354.96Z" fill="#058a1e"/>
<path d="M449 324.26L451.7 326.96L449 329.66L446.3 326.96Z" fill="#058a1e"/>
<path d="M463.5 309.08L466.2 311.78L463.5 314.48L460.8 311.78Z" fill="#058a1e"/>
<path d="M469.7 298.32L472.4 301.02L469.7 303.72L467 301.02Z" fill="#058a1e"/>
<path d="M474.3 289.77L477 292.47L474.3 295.17L471.6 292.47Z" fill="#058a1e"/>
<path d="M476 282.52L478.7 285.22L476 287.92L473.3 285.22Z" fill="#058a1e"/>
<path d="M477.5 276.1L480.2 278.8L477.5 281.5L474.8 278.8Z" fill="#058a1e"/>
<path d="M486.7 270.22L489.4 272.92L486.7 275.62L484 272.92Z" fill="#058a1e"/>
<path d="M489.3 264.66L492 267.36L489.3 270.06L486.6 267.36Z" fill="#058a1e"/>
<path d="M492.4 259.27L495.1 261.97L492.4 264.67L489.7 261.97Z" fill="#058a1e"/>
<path d="M493.1 253.88L495.8 256.58L493.1 259.28L490.4 256.58Z" fill="#058a1e"/>
<path d="M495.7 248.3L498.4 251L495.7 253.7L493 251Z" fill="#058a1e"/>
<path d="M497.2 242.24L499.9 244.94L497.2 247.64L494.5 244.94Z" fill="#058a1e"/>
<path d="M498.6 235.08L501.3 237.78L498.6 240.48L495.9 237.78Z" fill="#058a1e"/>
<path d="M503.4 224.81L506.1 227.51L503.4 230.21L500.7 227.51Z" fill="#058a1e"/>
<path d="M429.2 352.11L431.85 357.16L426.55 357.16Z" fill="#0a0af0"/>
<path d="M449.5 324.11L452.15 329.16L446.85 329.16Z" fill="#0a0af0"/>
<path d="M461.9 308.93L464.55 313.98L459.25 313.98Z" fill="#0a0af0"/>
<path d="M464.4 298.17L467.05 303.22L461.75 303.22Z" fill="#0a0af0"/>
<path d="M470.4 289.62L473.05 294.67L467.75 294.67Z" fill="#0a0af0"/>
<path d="M476.6 282.37L479.25 287.42L473.95 287.42Z" fill="#0a0af0"/>
<path d="M488.8 275.95L491.45 281L486.15 281Z" fill="#0a0af0"/>
<path d="M491.4 270.07L494.05 275.12L488.75 275.12Z" fill="#0a0af0"/>
<path d="M492.6 264.51L495.25 269.56L489.95 269.56Z" fill="#0a0af0"/>
<path d="M495.3 259.12L497.95 264.17L492.65 264.17Z" fill="#0a0af0"/>
<path d="M497.2 253.73L499.85 258.78L494.55 258.78Z" fill="#0a0af0"/>
<path d="M500.4 248.15L503.05 253.2L497.75 253.2Z" fill="#0a0af0"/>
<path d="M505.2 242.09L507.85 247.14L502.55 247.14Z" fill="#0a0af0"/>
<path d="M505.5 234.93L508.15 239.98L502.85 239.98Z" fill="#0a0af0"/>
<path d="M514.9 224.66L517.55 229.71L512.25 229.71Z" fill="#0a0af0"/>
<path d="M441.6 354.96L436.6 352.31L436.6 357.61Z" fill="#b010c8"/>
<path d="M449.7 326.96L444.7 324.31L444.7 329.61Z" fill="#b010c8"/>
<path d="M454.4 311.78L449.4 309.13L449.4 314.43Z" fill="#b010c8"/>
<path d="M456.3 301.02L451.3 298.37L451.3 303.67Z" fill="#b010c8"/>
<path d="M457.4 292.47L452.4 289.82L452.4 295.12Z" fill="#b010c8"/>
<path d="M463.5 285.22L458.5 282.57L458.5 287.87Z" fill="#b010c8"/>
<path d="M468.2 278.8L463.2 276.15L463.2 281.45Z" fill="#b010c8"/>
<path d="M469.6 272.92L464.6 270.27L464.6 275.57Z" fill="#b010c8"/>
<path d="M470.6 267.36L465.6 264.71L465.6 270.01Z" fill="#b010c8"/>
<path d="M475.2 261.97L470.2 259.32L470.2 264.62Z" fill="#b010c8"/>
<path d="M479 256.58L474 253.93L474 259.23Z" fill="#b010c8"/>
<path d="M484.3 251L479.3 248.35L479.3 253.65Z" fill="#b010c8"/>
<path d="M487.9 244.94L482.9 242.29L482.9 247.59Z" fill="#b010c8"/>
<path d="M491.8 237.78L486.8 235.13L486.8 240.43Z" fill="#b010c8"/>
<path d="M498.8 227.51L493.8 224.86L493.8 230.16Z" fill="#b010c8"/>
<path d="M410.2 354.96L415.2 352.31L415.2 357.61Z" fill="#e8840a"/>
<path d="M432 326.96L437 324.31L437 329.61Z" fill="#e8840a"/>
<path d="M446 311.78L451 309.13L451 314.43Z" fill="#e8840a"/>
<path d="M451.2 301.02L456.2 298.37L456.2 303.67Z" fill="#e8840a"/>
<path d="M454 292.47L459 289.82L459 295.12Z" fill="#e8840a"/>
<path d="M469.1 285.22L474.1 282.57L474.1 287.87Z" fill="#e8840a"/>
<path d="M472.4 278.8L477.4 276.15L477.4 281.45Z" fill="#e8840a"/>
<path d="M474.3 272.92L479.3 270.27L479.3 275.57Z" fill="#e8840a"/>
<path d="M476 267.36L481 264.71L481 270.01Z" fill="#e8840a"/>
<path d="M479.5 261.97L484.5 259.32L484.5 264.62Z" fill="#e8840a"/>
<path d="M481.2 256.58L486.2 253.93L486.2 259.23Z" fill="#e8840a"/>
<path d="M484.5 251L489.5 248.35L489.5 253.65Z" fill="#e8840a"/>
<path d="M488.1 244.94L493.1 242.29L493.1 247.59Z" fill="#e8840a"/>
<path d="M488.8 237.78L493.8 235.13L493.8 240.43Z" fill="#e8840a"/>
<path d="M490.4 227.51L495.4 224.86L495.4 230.16Z" fill="#e8840a"/>
</g>
<rect x="310.9" y="215.4" width="215.6" height="186.1" fill="none" stroke="#5e5e5e" stroke-width="1.3"/>
<text x="307.9" y="404.25" font-size="9" text-anchor="end">1</text>
<text x="307.9" y="383.04" font-size="9" text-anchor="end">2</text>
<text x="307.9" y="370.57" font-size="9" text-anchor="end">3</text>
<text x="307.9" y="354.74" font-size="9" text-anchor="end">5</text>
<text x="307.9" y="332.88" font-size="9" text-anchor="end">10</text>
<text x="307.9" y="310.09" font-size="9" text-anchor="end">20</text>
<text x="307.9" y="295.85" font-size="9" text-anchor="end">30</text>
<text x="307.9" y="284.94" font-size="9" text-anchor="end">40</text>
<text x="307.9" y="275.67" font-size="9" text-anchor="end">50</text>
<text x="307.9" y="267.19" font-size="9" text-anchor="end">60</text>
<text x="307.9" y="258.9" font-size="9" text-anchor="end">70</text>
<text x="307.9" y="250.08" font-size="9" text-anchor="end">80</text>
<text x="307.9" y="239.2" font-size="9" text-anchor="end">90</text>
<text x="307.9" y="218.15" font-size="9" text-anchor="end">99</text>
<text x="318.4" y="409.3" font-size="9" text-anchor="middle">200</text>
<text x="391.9" y="409.3" font-size="9" text-anchor="middle">300</text>
<text x="445" y="409.3" font-size="9" text-anchor="middle">400</text>
<text x="485.8" y="409.3" font-size="9" text-anchor="middle">500</text>
<text x="519.2" y="409.3" font-size="9" text-anchor="middle">600</text>
<text x="319" y="227.9" font-size="8.3" style="font-family:&quot;Liberation Sans&quot;,&quot;Noto Sans CJK SC&quot;,sans-serif">(d)<tspan x="333.3" font-size="8.45">125℃</tspan></text>
<rect x="316.7" y="264.38" width="56" height="61" fill="#fff" stroke="#6e6e6e" stroke-width="1.2"/>
<path d="M318.9 271.18H332.1" stroke="#303030" stroke-width="1" fill="none"/>
<circle cx="325.5" cy="271.18" r="1.95" fill="#000000"/>
<text transform="translate(336.7,273.23) scale(1,1.09)" font-size="7.75">PP</text>
<path d="M318.9 281.13H332.1" stroke="#e84040" stroke-width="1" fill="none"/>
<rect x="323.55" y="279.08" width="3.9" height="4.1" fill="#f20000"/>
<text transform="translate(336.7,283.18) scale(1,1.09)" font-size="7.75">LCBPP</text>
<path d="M318.9 291.08H332.1" stroke="#25a868" stroke-width="1" fill="none"/>
<path d="M325.5 288.38L328.2 291.08L325.5 293.78L322.8 291.08Z" fill="#058a1e"/>
<text transform="translate(336.7,293.13) scale(1,1.09)" font-size="7.75">LCBPP1</text>
<path d="M318.9 301.03H332.1" stroke="#4848e8" stroke-width="1" fill="none"/>
<path d="M325.5 298.18L328.15 303.23L322.85 303.23Z" fill="#0a0af0"/>
<text transform="translate(336.7,303.08) scale(1,1.09)" font-size="7.75">LCBPP2</text>
<path d="M318.9 310.98H332.1" stroke="#b454e4" stroke-width="1" fill="none"/>
<path d="M328.3 310.98L323.3 308.33L323.3 313.63Z" fill="#b010c8"/>
<text transform="translate(336.7,313.03) scale(1,1.09)" font-size="7.75">LCBPP3</text>
<path d="M318.9 320.93H332.1" stroke="#f0a838" stroke-width="1" fill="none"/>
<path d="M322.7 320.93L327.7 318.28L327.7 323.58Z" fill="#e8840a"/>
<text transform="translate(336.7,322.98) scale(1,1.09)" font-size="7.75">LCBPP4</text>
</g>
<text transform="translate(16.1,99.5) rotate(-90)" font-size="9.7" text-anchor="middle">Probability (%)</text>
<text transform="translate(290.1,99.5) rotate(-90)" font-size="9.7" text-anchor="middle">Probability (%)</text>
<text transform="translate(16.1,308) rotate(-90)" font-size="9.7" text-anchor="middle">Probability (%)</text>
<text transform="translate(290.1,308) rotate(-90)" font-size="9.7" text-anchor="middle">Probability (%)</text>
<text transform="translate(149.4,419.9) scale(1,0.92)" font-size="10" text-anchor="middle">Breakdown strength (kV/mm)</text>
<text transform="translate(421.5,419.9) scale(1,0.92)" font-size="10" text-anchor="middle">Breakdown strength (kV/mm)</text>
</svg></body></html>
